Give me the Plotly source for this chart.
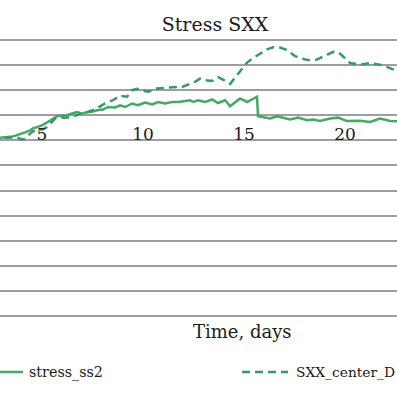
import plotly.graph_objects as go

# ---- data ----
days_ss2 = [2.5, 2.92, 3.42, 3.66, 3.91, 4.16, 4.41, 4.55, 4.80, 5.05, 5.30, 5.54, 5.74, 5.99,
            6.24, 6.49, 6.73, 6.98, 7.23, 7.48, 7.72, 8.02, 8.27, 8.61, 8.86, 9.11, 9.46,
            9.75, 10.10, 10.45, 10.74, 11.09, 11.44, 11.73, 12.08, 12.33, 12.48, 12.72,
            13.07, 13.42, 13.71, 14.06, 14.31, 14.55, 14.80, 15.15, 15.40, 15.64, 15.69,
            15.94, 16.29, 16.63, 16.93, 17.28, 17.67, 18.12, 18.42, 18.76, 19.26, 19.65,
            20.10, 20.74, 21.24, 21.73, 22.23, 22.57, 23.0]
stress_ss2 = [0.08, 0.10, 0.14, 0.18, 0.24, 0.32, 0.40, 0.48, 0.54, 0.62, 0.74, 0.88, 0.96, 0.98,
              1.00, 1.07, 1.13, 1.06, 1.13, 1.14, 1.20, 1.23, 1.33, 1.31, 1.40, 1.33, 1.47,
              1.40, 1.51, 1.43, 1.53, 1.47, 1.53, 1.53, 1.57, 1.60, 1.53, 1.60,
              1.53, 1.63, 1.49, 1.60, 1.36, 1.53, 1.67, 1.53, 1.63, 1.74, 0.96,
              0.93, 0.87, 0.96, 0.91, 0.83, 0.91, 0.80, 0.83, 0.77, 0.87, 0.91,
              0.77, 0.78, 0.73, 0.87, 0.77, 0.76, 0.75]

days_center = [2.5, 2.92, 3.42, 3.76, 4.01, 4.16, 4.31, 4.55, 4.80, 5.05, 5.25, 5.50, 5.64, 5.89,
               6.14, 6.49, 6.88, 7.28, 7.72, 8.12, 8.51, 8.86, 9.21, 9.46, 9.70, 10.00,
               10.25, 10.69, 11.19, 11.68, 11.93, 12.18, 12.33, 12.57, 12.82, 13.07, 13.42,
               13.71, 13.96, 14.31, 14.65, 14.90, 15.15, 15.45, 15.79, 16.14, 16.44, 16.78,
               17.13, 17.52, 18.12, 18.61, 19.01, 19.46, 19.75, 20.25, 20.74, 21.24, 21.73,
               22.23, 22.57, 23.0]
sxx_center = [0.08, 0.10, 0.12, 0.12, 0.04, 0.06, 0.20, 0.36, 0.42, 0.44, 0.53, 0.73, 0.87, 0.92,
              0.90, 0.94, 1.06, 1.13, 1.28, 1.47, 1.60, 1.78, 1.74, 2.00, 2.06, 1.98,
              1.94, 2.07, 2.11, 2.13, 2.13, 2.20, 2.24, 2.33, 2.46, 2.40, 2.37,
              2.52, 2.42, 2.25, 2.60, 2.86, 3.10, 3.28, 3.46, 3.63, 3.71, 3.70,
              3.60, 3.36, 3.20, 3.22, 3.38, 3.54, 3.46, 3.08, 3.02, 3.08, 3.02,
              2.87, 2.76, 2.65]

x_ticks = [5, 10, 15, 20]
series_names = ["stress_ss2", "SXX_center_D"]

FONT = "DejaVu Serif"
TXT = "#1a1a1a"
C_SOLID = "#43A963"
C_DASH = "#3A9670"
DASH = "8px,5px"
W = H = 397
T, B = 35, 76
PH = H - T - B


def paper_y(py):
    return (H - B - py) / PH


fig = go.Figure()
fig.add_trace(go.Scatter(x=days_ss2, y=stress_ss2, mode="lines", name=series_names[0],
                         line=dict(color=C_SOLID, width=2.5)))
fig.add_trace(go.Scatter(x=days_center, y=sxx_center, mode="lines", name=series_names[1],
                         line=dict(color=C_DASH, width=2.5, dash=DASH)))

y0, y1 = -7.2, 4.2
zero_frac = (0 - y0) / (y1 - y0)

# legend (drawn in paper space so it can sit at the edges as in the reference)
ly = paper_y(372)
shapes = [
    dict(type="line", xref="paper", yref="paper", x0=-2 / W, x1=23 / W, y0=ly, y1=ly,
         line=dict(color=C_SOLID, width=2.5)),
    dict(type="line", xref="paper", yref="paper", x0=242 / W, x1=288 / W, y0=ly, y1=ly,
         line=dict(color=C_DASH, width=2.5, dash=DASH)),
]
annotations = [
    dict(text="Time, days", xref="paper", yref="paper", x=243 / W, y=paper_y(331),
         xanchor="center", yanchor="middle", showarrow=False,
         font=dict(family=FONT, size=18, color=TXT)),
    dict(text=series_names[0], xref="paper", yref="paper", x=28 / W, y=ly,
         xanchor="left", yanchor="middle", showarrow=False, xshift=-1,
         font=dict(family=FONT, size=14.3, color=TXT)),
    dict(text=series_names[1], xref="paper", yref="paper", x=295 / W, y=ly,
         xanchor="left", yanchor="middle", showarrow=False, xshift=-1,
         font=dict(family=FONT, size=13.8, color=TXT)),
]

fig.update_layout(
    width=W, height=H,
    margin=dict(l=0, r=0, t=T, b=B, pad=0, autoexpand=False),
    paper_bgcolor="white", plot_bgcolor="white",
    font=dict(family=FONT, color=TXT),
    title=dict(text="Stress SXX", x=215 / W, xanchor="center", y=1 - 24 / H, yanchor="middle",
               font=dict(family=FONT, size=19, color=TXT)),
    xaxis=dict(range=[2.92, 22.57], tickvals=x_ticks, ticktext=[str(t) for t in x_ticks],
               showgrid=False, zeroline=False, showline=False, ticks="",
               anchor="free", position=zero_frac, ticklabelstandoff=-18,
               tickfont=dict(family=FONT, size=17, color=TXT)),
    yaxis=dict(range=[y0, y1], dtick=1, tick0=0, showgrid=True, gridcolor="#9E9E9E",
               gridwidth=1.5, zeroline=True, zerolinecolor="#9E9E9E", zerolinewidth=1.5,
               showticklabels=False, ticks="", showline=False),
    showlegend=False,
    shapes=shapes,
    annotations=annotations,
)

fig.write_html("out.html", config={"displayModeBar": False},
               post_script="document.body.style.margin='0';")
